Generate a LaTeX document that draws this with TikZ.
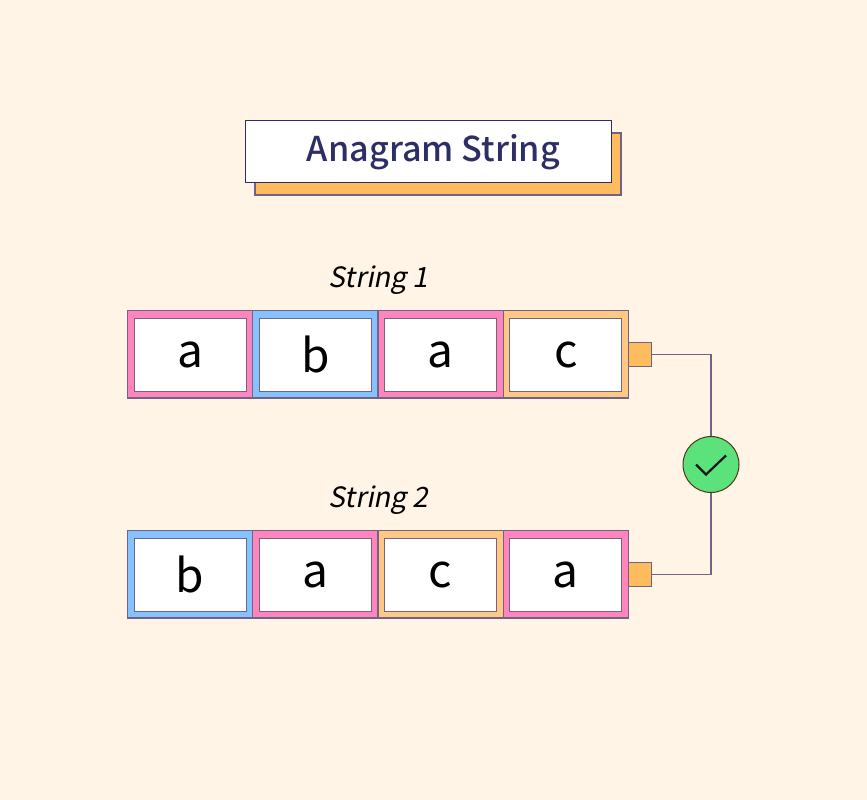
\documentclass[tikz,border=0pt]{standalone}
\usepackage{fontspec}
\setmainfont{Noto Sans CJK SC}[ItalicFont={Noto Sans CJK SC}, ItalicFeatures={FakeSlant=0.2}]
\newfontfamily\titlefont{Noto Sans CJK SC Medium}
\usepackage{tikz}
\usetikzlibrary{positioning, calc}

\definecolor{fond}{HTML}{FFF4E6}
\definecolor{encre}{HTML}{6F6485}
\definecolor{titre}{HTML}{2E2E66}
\definecolor{orange}{HTML}{FFBC5E}
\definecolor{rose}{HTML}{FF85BC}
\definecolor{bleu}{HTML}{85C2FF}
\definecolor{sable}{HTML}{FFC885}
\definecolor{vert}{HTML}{5CE27A}

\tikzset{
    outercell/.style={draw=encre, line width=1.2pt, minimum width=125.25pt, minimum height=87.5pt, inner sep=0pt},
    innercell/.style={draw=encre, line width=1.2pt, fill=white, minimum width=112pt, minimum height=73pt, inner sep=0pt, font=\fontsize{46}{46}\selectfont},
    port/.style={draw=encre, line width=1.2pt, fill=orange, minimum width=23pt, minimum height=24pt, inner sep=0pt},
    wire/.style={draw=encre, line width=1.2pt},
    caption/.style={font=\fontsize{28}{28}\selectfont\itshape}
}

\begin{document}
\begin{tikzpicture}[x=1pt, y=-1pt]

    % Fond
    \fill[fond] (0,0) rectangle (867,800);
    \useasboundingbox (0,0) rectangle (867,800);

    % Titre
    \node[draw=encre, line width=1.2pt, fill=orange, minimum width=366pt, minimum height=62pt, inner sep=0pt] (shadow) at (438,164) {};
    \node[draw=titre, line width=1pt, fill=white, minimum width=366pt, minimum height=62pt, inner sep=0pt] (titlebox) at (428.5,151.5) {};
    \node[text=titre, font=\fontsize{34.2}{34.2}\selectfont\titlefont] (title) at (433.5,152) {Anagram String};

    % Chaine 1
    \node[caption] (caption1) at (378.5,280) {String 1};
    \foreach \col/\lab [count=\i from 0] in {rose/a, bleu/b, rose/a, sable/c} {
        \node[outercell, fill=\col] (top\i) at (190.1+125.25*\i, 354.3) {};
        \node[innercell] (topin\i) at ([yshift=-0.5pt]top\i) {\lab};
    }

    % Chaine 2
    \node[caption] (caption2) at (378.5,500) {String 2};
    \foreach \col/\lab [count=\i from 0] in {bleu/b, rose/a, sable/c, rose/a} {
        \node[outercell, fill=\col] (bot\i) at (190.1+125.25*\i, 574.3) {};
        \node[innercell] (botin\i) at ([yshift=-0.5pt]bot\i) {\lab};
    }

    % Sorties
    \node[port] (port1) at (640,354.5) {};
    \node[port] (port2) at (640,574.5) {};

    % Validation
    \node[circle, draw=black!70!orange, line width=1pt, fill=vert, minimum size=56pt, inner sep=0pt] (check) at (711,464.5) {};
    \draw[wire] (port1.east) -| (check.north);
    \draw[wire] (port2.east) -| (check.south);
    \draw[line width=2.2pt, black!90] ($(check)+(-15,0)$) -- ($(check)+(-5,10)$) -- ($(check)+(15,-9)$);

\end{tikzpicture}
\end{document}
